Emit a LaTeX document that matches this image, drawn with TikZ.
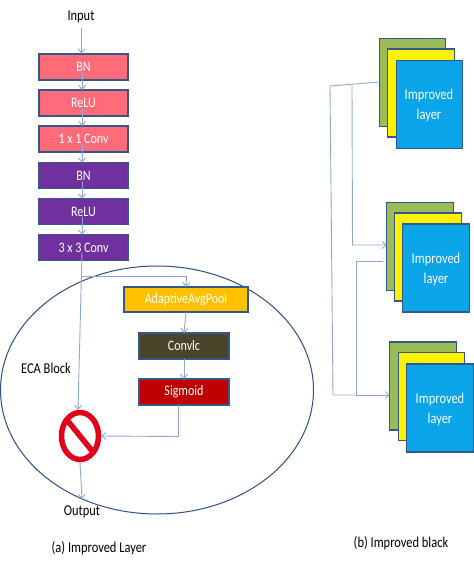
\documentclass[tikz,border=0pt]{standalone}
\usepackage{fontspec}
\setmainfont[FakeStretch=0.83]{Carlito}
\usetikzlibrary{shapes.geometric,arrows.meta}
\definecolor{pinkbox}{HTML}{FF6B78}
\definecolor{purplebox}{HTML}{7030A0}
\definecolor{edgeblue}{HTML}{35588A}
\definecolor{linkblue}{HTML}{8FAAD2}
\definecolor{ringblue}{HTML}{2F4F86}
\definecolor{amberbox}{HTML}{FFC000}
\definecolor{olivebox}{HTML}{4A452A}
\definecolor{redbox}{HTML}{C00000}
\definecolor{greenpage}{HTML}{9BBB59}
\definecolor{bluepage}{HTML}{0AA5E8}
\definecolor{stopred}{HTML}{E3001B}
\tikzset{
  x=1pt,y=-1pt,
  blockbox/.style={draw=edgeblue,line width=1.1pt,inner sep=0pt,outer sep=0pt,text=white,font=\fontsize{14.5}{14.5}\selectfont},
  layerbox/.style={blockbox,minimum width=89pt,minimum height=26pt},
  eciabox/.style={blockbox,minimum width=90pt,minimum height=26pt},
  pagebox/.style={blockbox,minimum width=66.5pt,minimum height=88pt},
  pagetext/.style={inner sep=0pt,text=white,align=center,font=\fontsize{15}{20}\selectfont},
  conn/.style={draw=linkblue,line width=0.9pt},
  connarrow/.style={conn,-{Straight Barb[length=4pt,width=7pt]}},
  plain/.style={inner sep=0pt,outer sep=0pt,text=black,font=\fontsize{15}{15}\selectfont}
}
\begin{document}
\begin{tikzpicture}
\useasboundingbox (0,0) rectangle (474,568);
\fill[white] (0,0) rectangle (474,568);
% ECA ellipse
\node[draw=ringblue,line width=1pt,ellipse,minimum width=313pt,minimum height=248pt,inner sep=0pt,outer sep=0pt] (eca) at (157,390) {};
% left column
\node[plain] (input) at (81,17) {Input};
\node[layerbox,fill=pinkbox] (b1) at (83.5,67) {BN};
\node[layerbox,fill=pinkbox] (b2) at (83.5,103) {ReLU};
\node[layerbox,fill=pinkbox] (b3) at (83.5,139) {1 x 1 Conv};
\node[layerbox,fill=purplebox] (b4) at (83.5,175.5) {BN};
\node[layerbox,fill=purplebox] (b5) at (83.5,211.5) {ReLU};
\node[layerbox,fill=purplebox] (b6) at (83.5,247.5) {3 x 3 Conv};
\node[blockbox,fill=amberbox,minimum width=124pt,minimum height=25pt] (pool) at (186,299.5) {AdaptiveAvgPool};
\node[eciabox,fill=olivebox] (convl) at (184,346) {Convlc};
\node[eciabox,fill=redbox] (sig) at (184,392) {Sigmoid};
% stop sign
\node[draw=stopred,fill=white,line width=5.5pt,ellipse,minimum width=37pt,minimum height=47pt,inner sep=0pt,outer sep=2.7pt] (stop) at (80,436) {};
\draw[stopred,line width=5.5pt] (67,420) -- (93,452);
\coordinate (branch) at (82,276);
\coordinate (elbow) at (186.5,276);
\coordinate (turn) at (178.5,436.5);
\coordinate (out) at (82,499);
\draw[connarrow] (81.5,28) -- (81.5,53.5);
\foreach \a/\b in {b1/b2,b2/b3,b3/b4,b4/b5,b5/b6}
  \draw[connarrow] ([xshift=-1.5pt,yshift=8pt]\a.south) -- ([xshift=-1.5pt]\b.north);
\draw[connarrow] ([xshift=-1.5pt,yshift=8pt]b6.south) -- ([xshift=-2pt]stop.north);
\draw[conn] (branch) -- (elbow);
\draw[connarrow] (elbow) -- (pool.north);
\draw[connarrow] (pool.south) -- (convl.north);
\draw[connarrow] (convl.south) -- (sig.north);
\draw[conn] ([xshift=-5.5pt]sig.south) -- (turn);
\draw[connarrow] (turn) -- (stop.east);
\draw[connarrow] (stop.south) -- (out);
\node[plain] (output) at (82,512) {Output};
\node[plain] (ecalabel) at (46,368) {ECA Block};
\node[plain] (capa) at (99,548) {(a) Improved Layer};
\node[plain] (capb) at (401,543) {(b) Improved black};
% right stacks
\node[pagebox,fill=greenpage] (g1) at (412.5,82.5) {};
\node[pagebox,fill=yellow] (y1) at (421,93) {};
\node[pagebox,fill=bluepage] (l1) at (429.5,104.5) {};
\node[pagetext] (t1) at (429,105) {Improved\\layer};
\node[pagebox,fill=greenpage] (g2) at (420,246.5) {};
\node[pagebox,fill=yellow] (y2) at (428,257) {};
\node[pagebox,fill=bluepage] (l2) at (436,268) {};
\node[pagetext] (t2) at (436,269) {Improved\\layer};
\node[pagebox,fill=greenpage] (g3) at (423,386) {};
\node[pagebox,fill=yellow] (y3) at (431.5,396.5) {};
\node[pagebox,minimum width=67pt,fill=bluepage] (l3) at (440,408) {};
\node[pagetext] (t3) at (440,409) {Improved\\layer};
\coordinate (c1) at (330,86);
\coordinate (c2) at (333,395);
\coordinate (c3) at (352,85);
\coordinate (c4) at (352.5,245);
\coordinate (c5) at (356,261);
\coordinate (c6) at (356,395);
\draw[conn] (g1.west |- 0,82) -- (c1) -- (c2) -- (c6);
\draw[connarrow] (c6) -- (g3.west |- c6);
\draw[connarrow] (c3) -- (c4) -- (g2.west |- c4);
\draw[conn] (383,261) -- (c5) -- (c6);
\end{tikzpicture}
\end{document}
